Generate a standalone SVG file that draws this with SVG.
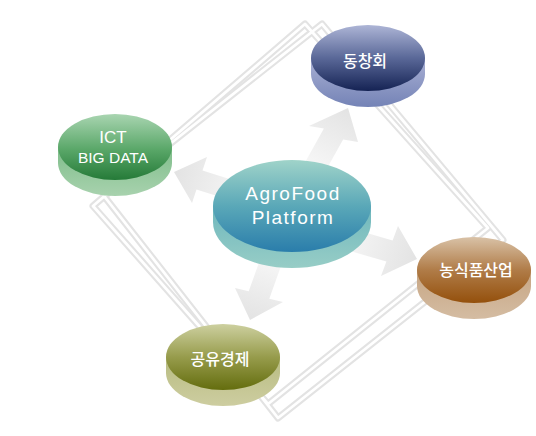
<svg xmlns="http://www.w3.org/2000/svg" width="536" height="436" viewBox="0 0 536 436">
<defs>
<style>
.frame-out{fill:none;stroke:#e3e3e3;stroke-width:7;stroke-linejoin:round}
.frame-in{fill:none;stroke:#ffffff;stroke-width:2.8;stroke-linejoin:round}
.lbl{fill:#ffffff;text-anchor:middle;font-family:"Liberation Sans","Noto Sans",sans-serif}
.kr{fill:#ffffff;text-anchor:middle;font-family:"Noto Sans CJK KR","Noto Sans",sans-serif;font-size:16px;font-weight:500}
</style>
<linearGradient id="gIct" x1="0" y1="0" x2="0" y2="1"><stop offset="0" stop-color="#a9d5b1"/><stop offset="0.55" stop-color="#58a667"/><stop offset="1" stop-color="#257a38"/></linearGradient>
<linearGradient id="sIct" x1="0" y1="0" x2="0" y2="1"><stop offset="0" stop-color="#7fbd8a"/><stop offset="1" stop-color="#a8d2ae"/></linearGradient>
<linearGradient id="gDong" x1="0" y1="0" x2="0" y2="1"><stop offset="0" stop-color="#adb5d6"/><stop offset="0.5" stop-color="#5a6898"/><stop offset="1" stop-color="#152354"/></linearGradient>
<linearGradient id="sDong" x1="0" y1="0" x2="0" y2="1"><stop offset="0" stop-color="#a9b0d4"/><stop offset="1" stop-color="#7483b6"/></linearGradient>
<linearGradient id="gAgro" x1="0" y1="0" x2="0" y2="1"><stop offset="0" stop-color="#9fd3c9"/><stop offset="0.5" stop-color="#5aa8b8"/><stop offset="1" stop-color="#2a7dab"/></linearGradient>
<linearGradient id="sAgro" x1="0" y1="0" x2="0" y2="1"><stop offset="0" stop-color="#6fb7bd"/><stop offset="1" stop-color="#97cdc6"/></linearGradient>
<linearGradient id="gNong" x1="0" y1="0" x2="0" y2="1"><stop offset="0" stop-color="#d9c2a7"/><stop offset="0.5" stop-color="#b07c48"/><stop offset="1" stop-color="#94500c"/></linearGradient>
<linearGradient id="sNong" x1="0" y1="0" x2="0" y2="1"><stop offset="0" stop-color="#c7a684"/><stop offset="1" stop-color="#d4bca2"/></linearGradient>
<linearGradient id="gGong" x1="0" y1="0" x2="0" y2="1"><stop offset="0" stop-color="#cdd0a0"/><stop offset="0.5" stop-color="#979c4c"/><stop offset="1" stop-color="#646d0e"/></linearGradient>
<linearGradient id="sGong" x1="0" y1="0" x2="0" y2="1"><stop offset="0" stop-color="#b8bc82"/><stop offset="1" stop-color="#cdcda0"/></linearGradient>
<linearGradient id="aIct" gradientUnits="userSpaceOnUse" x1="247" y1="195" x2="174" y2="172"><stop offset="0" stop-color="#f7f7f7"/><stop offset="1" stop-color="#e3e3e3"/></linearGradient>
<linearGradient id="aDong" gradientUnits="userSpaceOnUse" x1="314" y1="169" x2="348" y2="108"><stop offset="0" stop-color="#f7f7f7"/><stop offset="1" stop-color="#e3e3e3"/></linearGradient>
<linearGradient id="aNong" gradientUnits="userSpaceOnUse" x1="341" y1="237" x2="417" y2="259"><stop offset="0" stop-color="#f7f7f7"/><stop offset="1" stop-color="#e3e3e3"/></linearGradient>
<linearGradient id="aGong" gradientUnits="userSpaceOnUse" x1="272" y1="257" x2="250" y2="320"><stop offset="0" stop-color="#f7f7f7"/><stop offset="1" stop-color="#e3e3e3"/></linearGradient>
</defs>
<rect width="536" height="436" fill="#ffffff"/>
<g id="frames">
<path class="frame-out" d="M305,24 L93,206 L268,404 L488,228 Z"/>
<path class="frame-out" d="M322,24 L104,196 L278,418 L503,240 Z"/>
<path class="frame-in" d="M305,24 L93,206 L268,404 L488,228 Z"/>
<path class="frame-in" d="M322,24 L104,196 L278,418 L503,240 Z"/>
</g>
<g id="connectors">
<polygon fill="url(#aIct)" points="174,172 207,157 202.5,170.5 250,185.5 244,204.5 196.5,189.5 192,203"/>
<polygon fill="url(#aDong)" points="348,108 309,126 323.9,128.6 304.4,163.6 323.6,174.4 343.1,139.4 358,142"/>
<polygon fill="url(#aNong)" points="417,259 398,226 392.6,240.4 344.6,226.4 338.4,247.6 386.4,261.6 381,276"/>
<polygon fill="url(#aGong)" points="250,320 235,288 248.7,291.3 262.2,253.7 282.8,261.1 269.3,298.7 283,302"/>
</g>
<g id="node-ict">
<path fill="url(#sIct)" d="M58,147 L58,163 A57,33 0 0 0 172,163 L172,147 Z"/>
<ellipse cx="115" cy="147" rx="57" ry="33" fill="url(#gIct)"/>
<text class="lbl" x="113" y="143" font-size="17">ICT</text>
<text class="lbl" x="113" y="163" font-size="15.5">BIG DATA</text>
</g>
<g id="node-dongchanghoe">
<path fill="url(#sDong)" d="M311,58 L311,74 A57,33 0 0 0 425,74 L425,58 Z"/>
<ellipse cx="368" cy="58" rx="57" ry="33" fill="url(#gDong)"/>
<text class="kr" x="365" y="67">동창회</text>
</g>
<g id="node-agrofood">
<path fill="url(#sAgro)" d="M213,206 L213,222 A79,46 0 0 0 371,222 L371,206 Z"/>
<ellipse cx="292" cy="206" rx="79" ry="46" fill="url(#gAgro)"/>
<text class="lbl" x="293" y="200" font-size="19" letter-spacing="1.5">AgroFood</text>
<text class="lbl" x="293" y="224" font-size="19" letter-spacing="1.5">Platform</text>
</g>
<g id="node-nongsikpum">
<path fill="url(#sNong)" d="M417,270 L417,286 A57,33 0 0 0 531,286 L531,270 Z"/>
<ellipse cx="474" cy="270" rx="57" ry="33" fill="url(#gNong)"/>
<text class="kr" x="476" y="276">농식품산업</text>
</g>
<g id="node-gongyu">
<path fill="url(#sGong)" d="M166,357 L166,373 A57,33 0 0 0 280,373 L280,357 Z"/>
<ellipse cx="223" cy="357" rx="57" ry="33" fill="url(#gGong)"/>
<text class="kr" x="220" y="365">공유경제</text>
</g>
</svg>
